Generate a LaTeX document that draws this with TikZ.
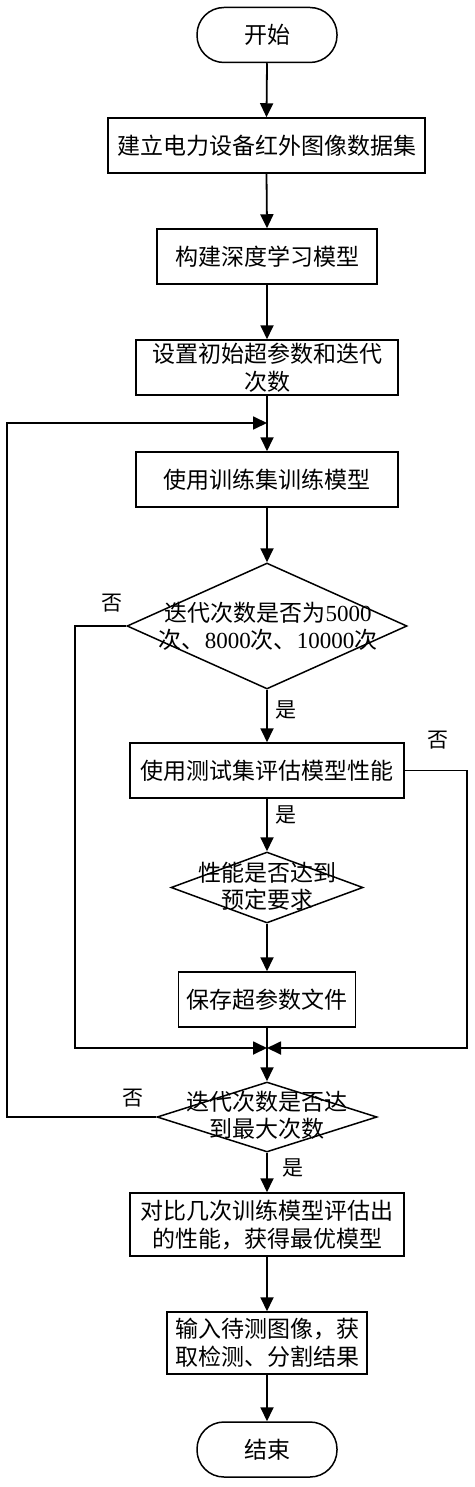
\documentclass[tikz,border=0pt]{standalone}
\usepackage{fontspec}
\setmainfont{Liberation Serif}
\newfontfamily\cjk{Noto Sans CJK SC}
\usetikzlibrary{arrows.meta,shapes.geometric}
\begin{document}
\begin{tikzpicture}[x=1pt,y=-1pt,
  box/.style={draw, line width=1.5pt, inner sep=0pt, align=center, font=\cjk\fontsize{23}{28}\selectfont},
  term/.style={box, rounded corners=27pt},
  dia/.style={draw, diamond, line width=1.5pt, inner sep=0pt},
  txt/.style={inner sep=0pt, align=center, font=\cjk\fontsize{23}{27}\selectfont},
  lbl/.style={inner sep=0pt, font=\cjk\fontsize{21}{21}\selectfont},
  arr/.style={line width=1.8pt, -{Triangle[length=14pt,width=13pt]}}]
\useasboundingbox[fill=white] (0,0) rectangle (474,1487);

\node[term, minimum width=140pt, minimum height=55pt] (start) at (267,35) {开始};
\node[box, minimum width=317pt, minimum height=55pt] (b1) at (266.5,145.5) {建立电力设备红外图像数据集};
\node[box, minimum width=220pt, minimum height=55pt] (b2) at (267,256.5) {构建深度学习模型};
\node[box, minimum width=262pt, minimum height=55pt] (b3) at (267,367.5) {设置初始超参数和迭代\\次数};
\node[box, minimum width=262pt, minimum height=55pt] (b4) at (267,479.5) {使用训练集训练模型};
\node[dia, minimum width=280pt, minimum height=126pt] (d1) at (267,626) {};
\node[txt] (d1t) at (268,626) {迭代次数是否为{\rmfamily 5000}\\次、{\rmfamily 8000}次、{\rmfamily 10000}次};
\node[box, minimum width=274pt, minimum height=55pt] (b5) at (267,770.5) {使用测试集评估模型性能};
\node[dia, minimum width=192pt, minimum height=71pt] (d2) at (267,887.5) {};
\node[txt] (d2t) at (267,886) {性能是否达到\\预定要求};
\node[box, minimum width=177pt, minimum height=55pt] (b6) at (267,999.5) {保存超参数文件};
\node[dia, minimum width=220pt, minimum height=70pt] (d3) at (267,1117) {};
\node[txt] (d3t) at (267,1115) {迭代次数是否达\\到最大次数};
\node[box, minimum width=274pt, minimum height=63pt] (b7) at (267,1224.5) {对比几次训练模型评估出\\的性能，获得最优模型};
\node[box, minimum width=200pt, minimum height=62pt] (b8) at (267,1343) {输入待测图像，获\\取检测、分割结果};
\node[term, minimum width=140pt, minimum height=55pt] (end) at (267,1449.5) {结束};

\coordinate (m) at (267,1048);
\coordinate (lp) at (267,423);

\draw[arr] (start.south) -- (b1.north);
\draw[arr] (b1.south) -- (b2.north);
\draw[arr] (b2.south) -- (b3.north);
\draw[arr] (b3.south) -- (b4.north);
\draw[arr] (b4.south) -- (d1.north);
\draw[arr] (d1.south) -- (b5.north);
\draw[arr] (b5.south) -- (d2.north);
\draw[arr] (d2.south) -- (b6.north);
\draw[arr] (b6.south) -- (d3.north);
\draw[arr] (d3.south) -- (b7.north);
\draw[arr] (b7.south) -- (b8.north);
\draw[arr] (b8.south) -- (end.north);
\draw[arr] (d1.west) -- ++(-51,0) |- (m);
\draw[arr] (b5.east) -- ++(62,0) |- (m);
\draw[arr] (d3.west) -- ++(-149,0) |- (lp);

\node[lbl] (n1) at (112,603) {否};
\node[lbl] (y1) at (286,710) {是};
\node[lbl] (n2) at (438,740) {否};
\node[lbl] (y2) at (286,815) {是};
\node[lbl] (n3) at (133,1098) {否};
\node[lbl] (y3) at (293,1168) {是};
\end{tikzpicture}
\end{document}
